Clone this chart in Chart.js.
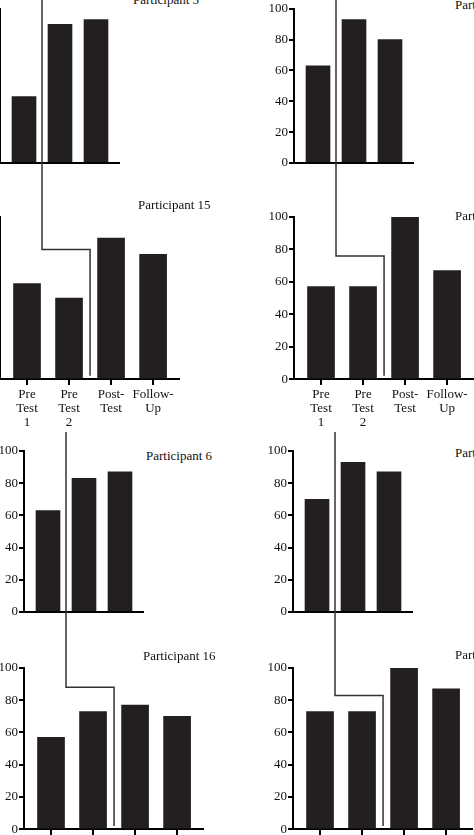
<!DOCTYPE html>
<html>
<head>
<meta charset="utf-8">
<script src="https://cdn.jsdelivr.net/npm/chart.js@4/dist/chart.umd.min.js"></script>
<style>
  body { margin: 0; width: 474px; height: 835px; overflow: hidden; background: #fff; position: relative; }
  .box { position: absolute; }
  .ttl { position: absolute; font: 13px "Liberation Serif", serif; color: #111; white-space: nowrap; }
</style>
</head>
<body>
<div class="box" style="left:-40px;top:0;width:160px;height:190px"><canvas id="c5"></canvas></div>
<div class="box" style="left:-40px;top:190px;width:220px;height:242px"><canvas id="c15"></canvas></div>
<div class="box" style="left:254px;top:0;width:160px;height:190px"><canvas id="cTR1"></canvas></div>
<div class="box" style="left:254px;top:190px;width:220px;height:242px"><canvas id="cTR2"></canvas></div>
<div class="box" style="left:-16px;top:432px;width:160px;height:218px"><canvas id="c6"></canvas></div>
<div class="box" style="left:-16px;top:650px;width:220px;height:232px"><canvas id="c16"></canvas></div>
<div class="box" style="left:253px;top:432px;width:160px;height:218px"><canvas id="cBR1"></canvas></div>
<div class="box" style="left:253px;top:650px;width:220px;height:232px"><canvas id="cBR2"></canvas></div>

<div class="ttl" style="left:133px;top:-8px">Participant 5</div>
<div class="ttl" style="left:138px;top:197px">Participant 15</div>
<div class="ttl" style="left:455px;top:-3px">Participant 11</div>
<div class="ttl" style="left:455px;top:208px">Participant 12</div>
<div class="ttl" style="left:146px;top:448px">Participant 6</div>
<div class="ttl" style="left:143px;top:648px">Participant 16</div>
<div class="ttl" style="left:455px;top:445px">Participant 7</div>
<div class="ttl" style="left:455px;top:647px">Participant 17</div>

<script>
// Phases (short panels: baseline only; long panels: all four)
const phasesShort = ['Pre Test 1', 'Pre Test 2', 'Post-Test'];
const phasesLong = [['Pre', 'Test', '1'], ['Pre', 'Test', '2'], ['Post-', 'Test'], ['Follow-', 'Up']];

// Percent scores
const p5 = [43, 90, 93];
const p15 = [59, 50, 87, 77];
const pTR1 = [63, 93, 80];
const pTR2 = [57, 57, 100, 67];
const p6 = [63, 83, 87];
const p16 = [57, 73, 77, 70];
const pBR1 = [70, 93, 87];
const pBR2 = [73, 73, 100, 87];

// level of the phase-change step in the lower panel
const stepLevel = { c15: 80, cTR2: 76, c16: 88, cBR2: 83 };

const BAR = '#231f20';
const FONT = { family: '"Liberation Serif", serif', size: 13 };
Chart.defaults.font = FONT;
Chart.defaults.color = '#111';

const phaseLine = {
  id: 'phaseLine',
  afterDatasetsDraw(chart, args, opts) {
    const ctx = chart.ctx;
    const x = chart.scales.x, y = chart.scales.y;
    ctx.save();
    ctx.strokeStyle = '#333';
    ctx.lineWidth = 1.5;
    ctx.beginPath();
    if (opts.level == null) {
      const px = x.getPixelForValue(1.5);
      ctx.moveTo(px, 0);
      ctx.lineTo(px, chart.height);
    } else {
      // continue the line from the panel above (same screen x for the y-axis)
      const px = opts.above.scales.x.getPixelForValue(1.5);
      const py = y.getPixelForValue(opts.level);
      const px2 = x.getPixelForValue(2.5);
      ctx.moveTo(px, 0);
      ctx.lineTo(px, py);
      ctx.lineTo(px2, py);
      ctx.lineTo(px2, y.getPixelForValue(2));
    }
    ctx.stroke();
    ctx.restore();
  }
};

function makeChart(id, values, long, pad, above) {
  const labels = long ? phasesLong : phasesShort;
  const data = values.map((v, i) => ({ x: i + 1, y: v }));
  return new Chart(document.getElementById(id), {
    type: 'bar',
    data: { datasets: [{ data: data, backgroundColor: BAR, barThickness: long ? 27 : 24 }] },
    plugins: [phaseLine],
    options: {
      responsive: true,
      maintainAspectRatio: false,
      animation: false,
      layout: { padding: pad },
      plugins: {
        legend: { display: false },
        tooltip: { enabled: false },
        phaseLine: long ? { level: stepLevel[id], above: above } : {}
      },
      scales: {
        x: {
          type: 'linear',
          offset: false,
          min: long ? 0.357 : 0.333,
          max: long ? 4.64 : 3.667,
          afterBuildTicks: s => { s.ticks = labels.map((l, i) => ({ value: i + 1 })); },
          ticks: {
            display: long,
            autoSkip: false,
            maxRotation: 0,
            padding: 2,
            font: { family: FONT.family, size: 13, lineHeight: 1.1 },
            callback: (v) => labels[v - 1]
          },
          grid: { offset: false, drawOnChartArea: false, drawTicks: long, tickLength: 6, color: '#000', lineWidth: 2 },
          border: { color: '#000', width: 2 }
        },
        y: {
          min: 0, max: 100,
          afterFit: s => { s.width = 40; },
          ticks: { stepSize: 20, padding: 1 },
          grid: { drawOnChartArea: false, tickLength: 5, color: '#000', lineWidth: 2 },
          border: { color: '#000', width: 2 }
        }
      }
    }
  });
}

const a = makeChart('c5', p5, false, { top: 4, bottom: 27 });
makeChart('c15', p15, true, { top: 27 }, a);
const b = makeChart('cTR1', pTR1, false, { top: 4, bottom: 27 });
makeChart('cTR2', pTR2, true, { top: 27 }, b);
const c = makeChart('c6', p6, false, { top: 19, bottom: 38 });
makeChart('c16', p16, true, { top: 18 }, c);
const d = makeChart('cBR1', pBR1, false, { top: 19, bottom: 38 });
makeChart('cBR2', pBR2, true, { top: 18 }, d);
</script>
</body>
</html>
